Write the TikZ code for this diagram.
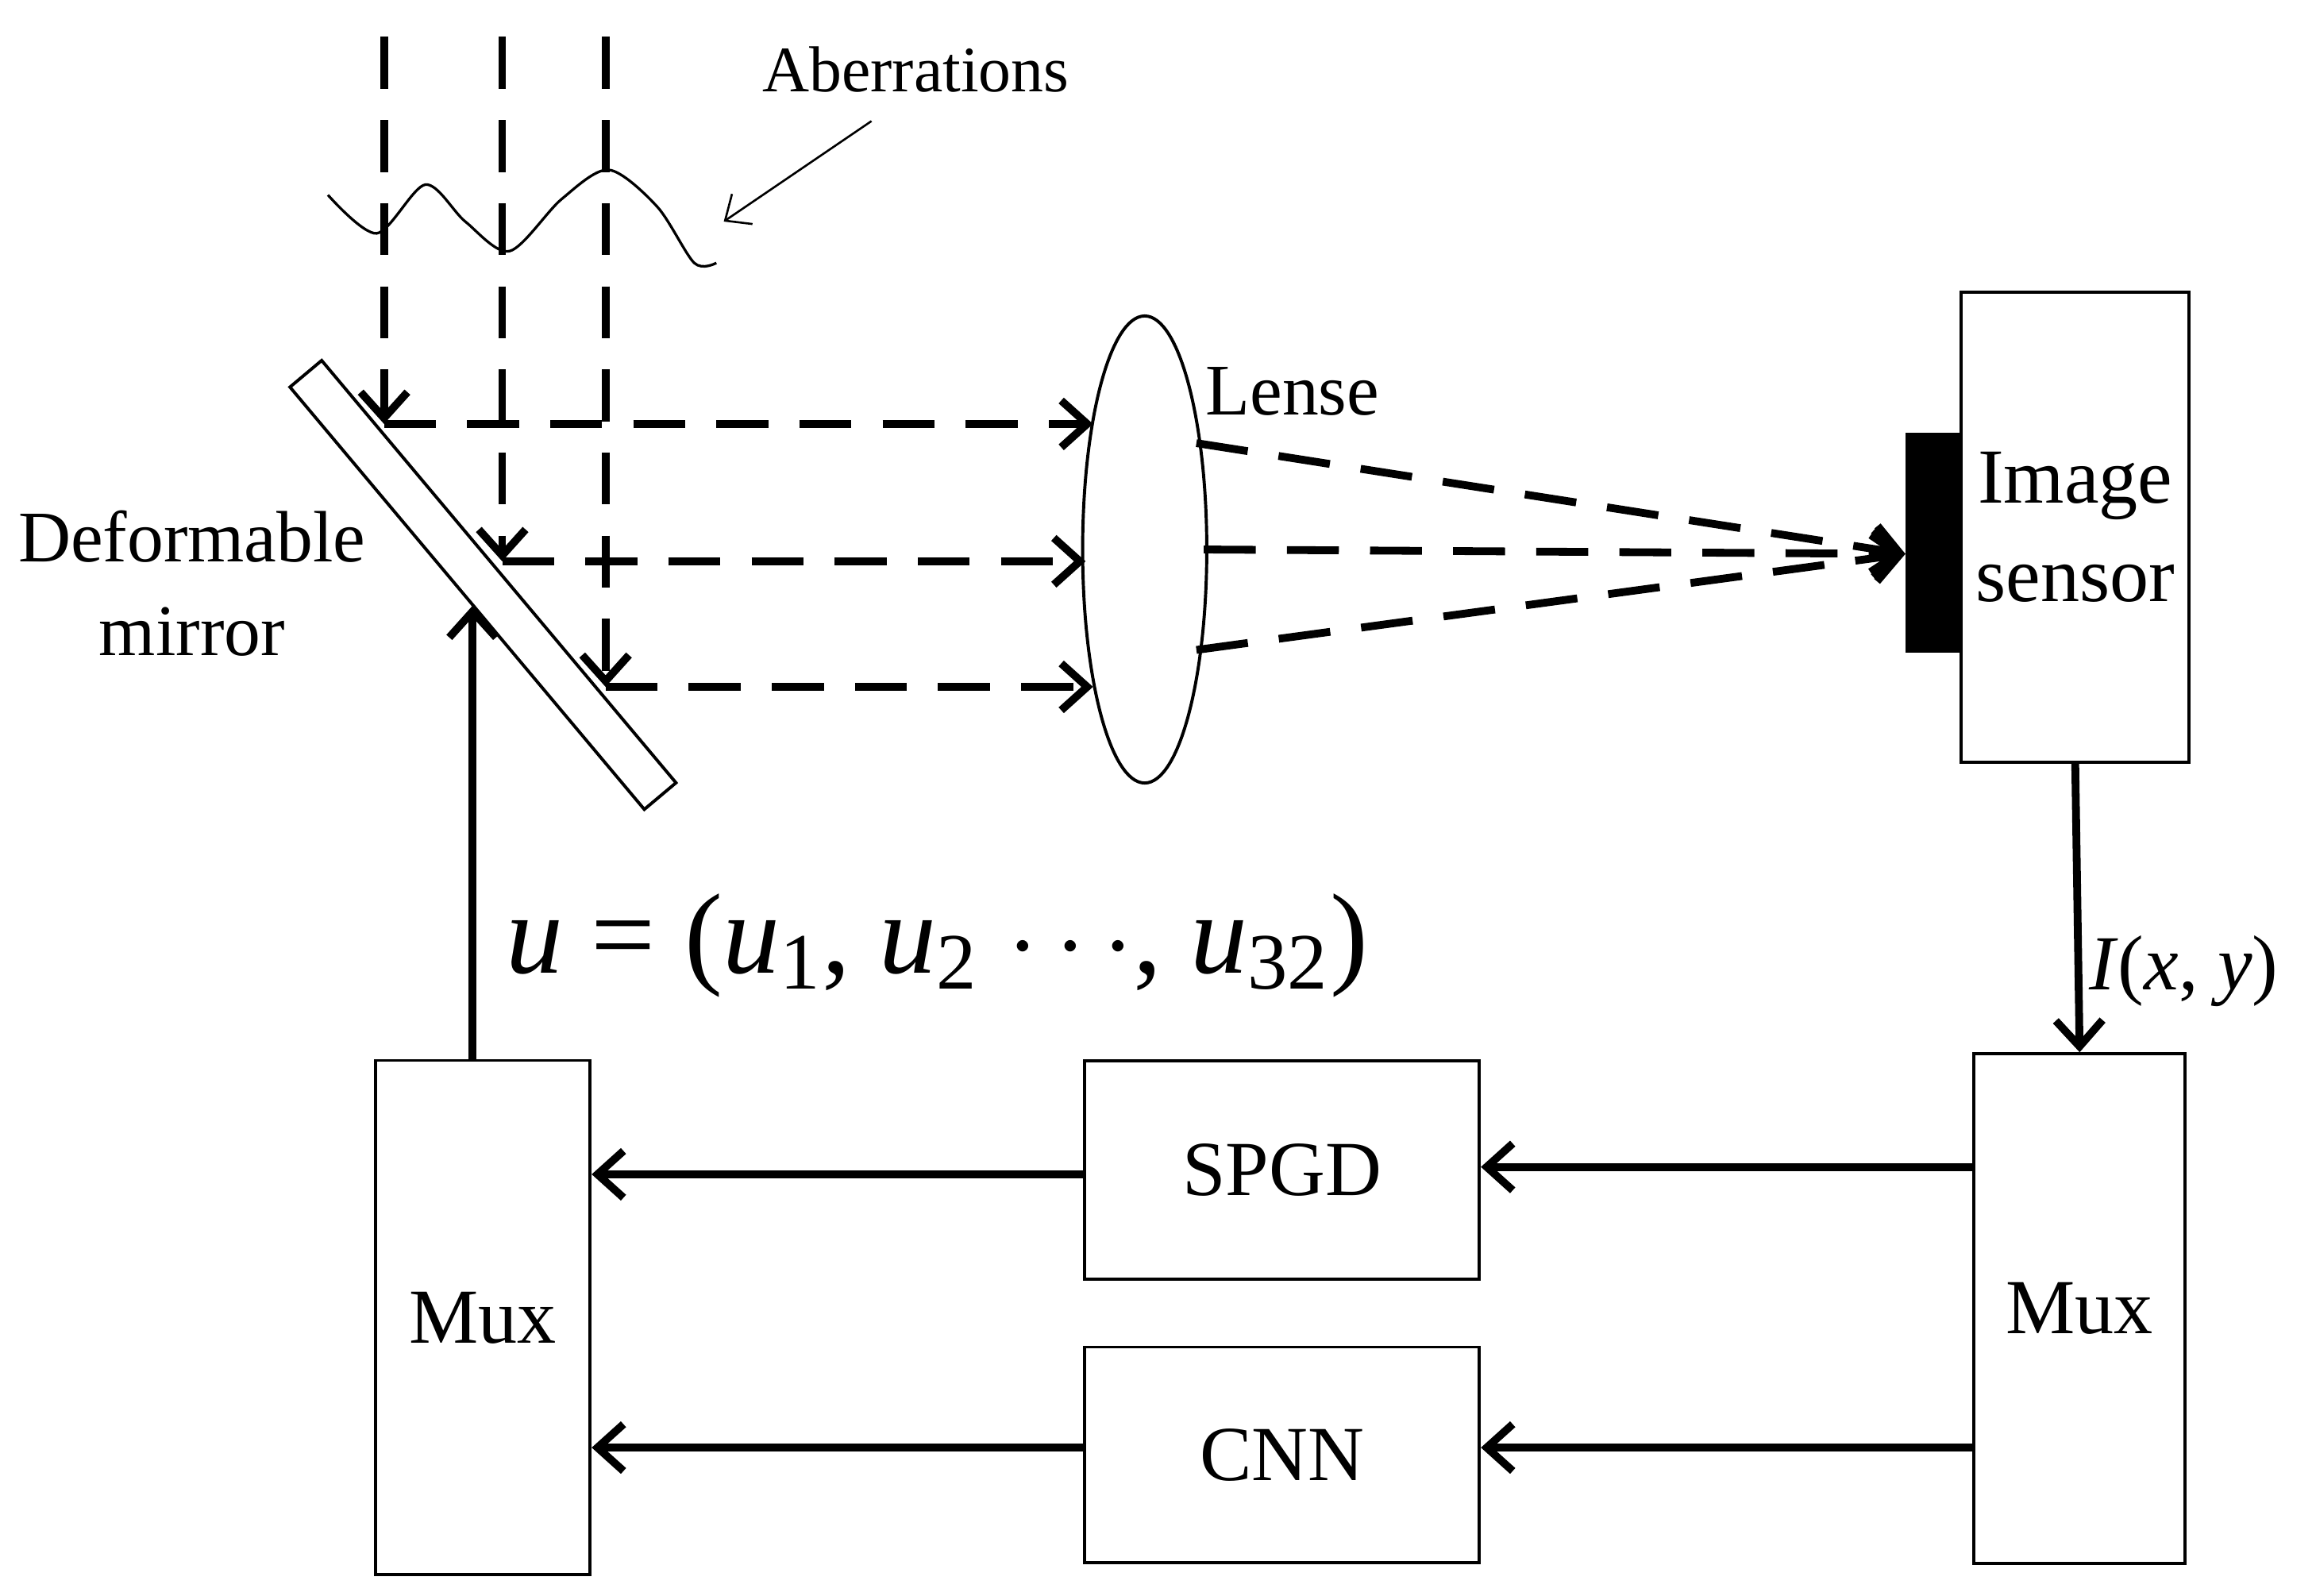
\documentclass[tikz,border=0pt]{standalone}
\usepackage{fontspec}
\setmainfont{Liberation Serif}
\usetikzlibrary{arrows.meta,shapes.geometric}
\tikzset{
  box/.style={draw, line width=.6pt, inner sep=0, font=\fontsize{15}{19}\selectfont},
  ray/.style={line width=1.5pt, dash pattern=on 10pt off 6pt, -{Straight Barb[length=5pt,width=9pt]}},
  link/.style={line width=1.5pt, -{Straight Barb[length=5pt,width=9pt]}},
}
\begin{document}
\begin{tikzpicture}[x=0.01cm, y=-0.01cm, font=\fontsize{14}{18}\selectfont]
\useasboundingbox (0,0) rectangle (1568,1080);
% incoming beams
\foreach \n/\x/\y in {a/260/287, b/340/380, c/410/465}{
  \coordinate (top\n) at (\x,25);
  \coordinate (hit\n) at (\x,\y);
  \draw[ray] (top\n) -- (hit\n);
}
\coordinate (lensa) at (740,287);
\coordinate (lensb) at (735,380);
\coordinate (lensc) at (740,465);
\draw[ray] (hita) -- (lensa);
\draw[ray] (hitb) -- (lensb);
\draw[ray] (hitc) -- (lensc);
% mirror
\node[box, rotate=-50, minimum height=0.28cm, minimum width=3.73cm] (mirror) at (327,396) {};
\node[align=center] (mirrorlbl) at (130,395) {Deformable\\mirror};
% aberrations
\draw[line width=.5pt] plot[smooth] coordinates {(222,132) (255,158) (288,125) (315,150) (345,170) (380,135) (412,115) (445,140) (470,178) (485,178)};
\node[font=\fontsize{12.5}{15}\selectfont] (aber) at (620,47) {Aberrations};
\draw[line width=.4pt, -{Straight Barb[length=4pt,width=7pt]}] (590,82) -- (490,150);
% lens
\node[draw, ellipse, line width=.6pt, minimum width=0.84cm, minimum height=3.16cm, inner sep=0] (lens) at (775,372) {};
\node (lenslbl) at (875,265) {Lense};
\coordinate (focus) at (1290,375);
\draw[ray] (810,300) -- (focus);
\draw[ray] (815,372) -- (focus);
\draw[ray] (810,440) -- (focus);
% sensor
\fill (1290,293) rectangle (1328,442);
\node[box, minimum width=1.54cm, minimum height=3.18cm, align=center] (sensor) at (1405,357) {Image\\sensor};
% processing
\node[box, minimum width=1.43cm, minimum height=3.45cm] (muxr) at (1408,886) {Mux};
\node[box, minimum width=2.67cm, minimum height=1.48cm] (spgd) at (868,792) {SPGD};
\node[box, minimum width=2.67cm, minimum height=1.46cm] (cnn) at (868,985) {CNN};
\node[box, minimum width=1.45cm, minimum height=3.48cm] (muxl) at (327,892) {Mux};
\draw[link] (sensor.south) -- (muxr.north) node[pos=.72, right=-2pt, font=\fontsize{15}{19}\selectfont] {\textit{I}(\textit{x}, \textit{y})};
\draw[link] (muxr.west |- 0,790) -- (spgd.east |- 0,790);
\draw[link] (muxr.west |- 0,980) -- (cnn.east |- 0,980);
\draw[link] (spgd.west |- 0,795) -- (muxl.east |- 0,795);
\draw[link] (cnn.west |- 0,980) -- (muxl.east |- 0,980);
\coordinate (back) at (320,410);
\draw[link] (320,718) -- (back);
\node[anchor=west, font=\fontsize{22}{26}\selectfont] (ulbl) at (330,640) {\textit{u} = (\textit{u}\textsubscript{1}, \textit{u}\textsubscript{2} $\cdots$, \textit{u}\textsubscript{32})};
\end{tikzpicture}
\end{document}
